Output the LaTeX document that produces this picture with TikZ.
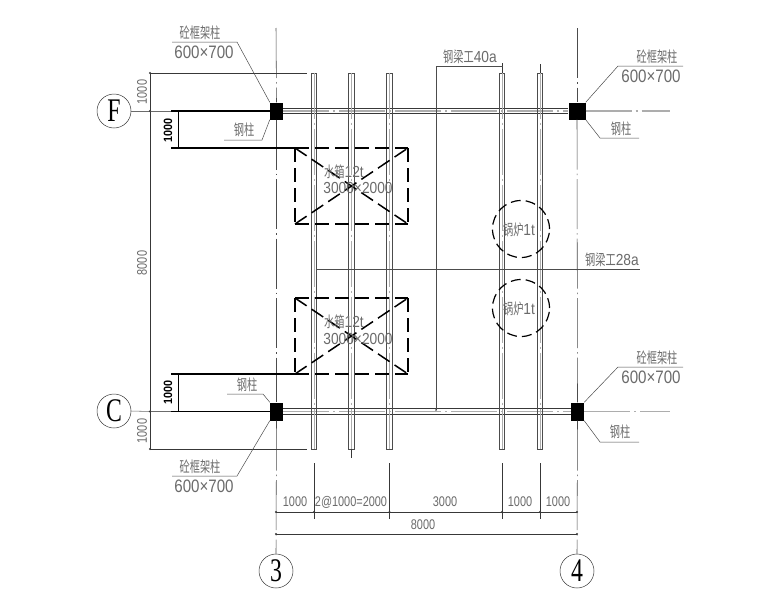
\documentclass[tikz,border=0pt]{standalone}
\usepackage{graphicx}
\usepackage{fontspec}
\setmainfont{Liberation Sans}
\newfontfamily\cjk{Noto Sans CJK SC}
\newfontfamily\serifnum{Liberation Serif}
\definecolor{ink}{gray}{0.22}
\definecolor{txtgray}{gray}{0.42}
\definecolor{axisgray}{gray}{0.3}
\definecolor{lightaxis}{gray}{0.68}
\newcommand{\lblbig}[1]{\scalebox{.84}[1]{\fontsize{18}{18}\selectfont #1}}
\newcommand{\lbldim}[1]{\scalebox{.78}[1]{\fontsize{14}{14}\selectfont #1}}
\newcommand{\lbltank}[1]{\scalebox{.86}[1]{\fontsize{16}{16}\selectfont #1}}
\newcommand{\lblcjk}[1]{\scalebox{.68}[1]{\fontsize{15}{15}\selectfont\cjk #1}}
\newcommand{\lblbold}[1]{\rotatebox{90}{\scalebox{.9}[1]{\fontsize{12}{12}\selectfont\bfseries #1}}}
\newcommand{\lblrot}[1]{\rotatebox{90}{\lbldim{#1}}}
\newcommand{\lblgrid}[1]{\scalebox{.72}[1]{\fontsize{33}{33}\selectfont\serifnum #1}}
\tikzset{
  lbl/.style={inner sep=0pt,text=txtgray},
  thin line/.style={draw=ink,line width=.55pt},
  leader/.style={draw=axisgray,line width=.5pt},
  axisline/.style={draw=axisgray,line width=.55pt,dash pattern=on 50pt off 4pt on 1.5pt off 4pt},
  centerline/.style={draw=lightaxis,line width=1.1pt,dash pattern=on 46pt off 4pt on 2pt off 4pt},
  heavy/.style={draw=black,line width=1.3pt},
  tankdash/.style={draw=black,line width=1.5pt,dash pattern=on 14pt off 6pt},
  column/.style={fill=black,draw=none,inner sep=0pt},
  beamv/.style={draw=axisgray,line width=.55pt,minimum width=5.5pt,minimum height=376pt,inner sep=0pt},
  gridc/.style={circle,draw=ink,line width=.5pt,minimum size=34pt,inner sep=0pt,fill=white},
  tick/.style={fill=ink,circle,inner sep=0pt,minimum size=2.2pt},
}
\begin{document}
\begin{tikzpicture}[x=1pt,y=-1pt]
\useasboundingbox (0,0) rectangle (760,608);
\fill[white] (0,0) rectangle (760,608);
% grid reference coordinates
\coordinate (a3top) at (276,28);
\coordinate (a4top) at (577,28);
\node[gridc] (gF) at (114,111) {\lblgrid{F}};
\node[gridc] (gC) at (114,411) {\lblgrid{C}};
\node[gridc] (g3) at (276,571) {\lblgrid{3}};
\node[gridc] (g4) at (577,571) {\lblgrid{4}};
% columns
\node[column,minimum width=13pt,minimum height=17pt] (c3F) at (276.5,111) {};
\node[column,minimum width=17pt,minimum height=17pt] (c4F) at (577,111) {};
\node[column,minimum width=13pt,minimum height=18pt] (c3C) at (276.5,411.5) {};
\node[column,minimum width=13pt,minimum height=18pt] (c4C) at (577.5,411.5) {};
% axes
\draw[axisline] (a3top) -- (c3F.north);
\draw[axisline] (c3F.south) -- (c3C.north);
\draw[axisline] (c3C.south) -- (g3.north);
\draw[axisline] (a4top) -- (c4F.north);
\draw[axisline] (c4F.south) -- (c4C.north);
\draw[axisline] (c4C.south) -- (g4.north);
% horizontal beams and centre lines
\draw[centerline] (c3F.east) -- (c4F.west);
\draw[centerline] (c3C.east) -- (c4C.west);
\coordinate (rF) at (670,111);
\coordinate (rC) at (670,411.5);
\draw[centerline] (c4F.east) -- (rF);
\draw[centerline] (c4C.east) -- (rC);
\draw[thin line] ([yshift=3pt]c3F.east) -- ([yshift=3pt]c4F.west);
\draw[thin line] ([yshift=-2.5pt]c3F.east) -- ([yshift=-2.5pt]c4F.west);
\draw[thin line] ([yshift=3pt]c3C.east) -- ([yshift=3pt]c4C.west);
\draw[thin line] ([yshift=-2.5pt]c3C.east) -- ([yshift=-2.5pt]c4C.west);
% vertical beams
\node[beamv] (b1) at (314,261) {};
\node[beamv] (b2) at (351.5,261) {};
\node[beamv] (b3) at (389.5,261) {};
\node[beamv] (b4) at (502,261) {};
\node[beamv] (b5) at (540,261) {};
\foreach \b in {b1,b2,b3,b4,b5}{
  \draw[draw=lightaxis,line width=.9pt,dash pattern=on 46pt off 4pt on 2pt off 4pt] (\b.north) -- (\b.south);
}
\coordinate (t4) at (502,63);
\coordinate (t5) at (540,64);
\draw[thin line] (t4) -- (b4.north);
\draw[thin line] (t5) -- (b5.north);
% left dimensions
\coordinate (dLt) at (150,73);
\coordinate (dLb) at (150,449);
\coordinate (dLm1) at (150,111);
\coordinate (dLm2) at (150,411.5);
\coordinate (sTop) at (307,73);
\coordinate (sBot) at (307,449);
\draw[thin line] (dLt) -- (sTop);
\draw[thin line] (dLb) -- (sBot);
\draw[thin line] (dLt) -- (dLb);
\draw[draw=txtgray,line width=.55pt] (gF.east) -- (dLm1);
\draw[draw=txtgray,line width=.55pt] (gC.east) -- (dLm2);
\draw[draw=txtgray,line width=.55pt] (dLm1) -- (c3F.west);
\draw[draw=txtgray,line width=.55pt] (dLm2) -- (c3C.west);
\foreach \p in {dLt,dLb,dLm1,dLm2}{\node[tick] at (\p) {};}
\node[lbl] (dim1) at (142,92) {\lblrot{1000}};
\node[lbl] (dim2) at (142,263) {\lblrot{8000}};
\node[lbl] (dim3) at (142,431) {\lblrot{1000}};
% tanks
\coordinate (hF) at (171,111);
\coordinate (hC) at (171,411.5);
\coordinate (hF2) at (171,148);
\coordinate (hC2) at (171,374);
\coordinate (tTL) at (295,148);
\coordinate (tTR) at (408,148);
\coordinate (tBL) at (295,224);
\coordinate (tBR) at (408,224);
\coordinate (uTL) at (295,298);
\coordinate (uTR) at (408,298);
\coordinate (uBL) at (295,374);
\coordinate (uBR) at (408,374);
\draw[heavy] (hF) -- (c3F.west);
\draw[heavy] (hC) -- (c3C.west);
\draw[heavy] (hF2) -- (tTL);
\draw[heavy] (hC2) -- (uBL);
\coordinate (k1) at (178,111);
\coordinate (k2) at (178,148);
\coordinate (k3) at (178,374);
\coordinate (k4) at (178,411.5);
\draw[heavy,line width=1pt] (k1) -- (k2);
\draw[heavy,line width=1pt] (k3) -- (k4);
\node[inner sep=0pt] (bd1) at (168,130) {\lblbold{1000}};
\node[inner sep=0pt] (bd2) at (168,392) {\lblbold{1000}};
\draw[tankdash] (tTL) -- (tTR);
\draw[tankdash] (tTR) -- (tBR);
\draw[tankdash] (tBL) -- (tBR);
\draw[tankdash] (tTL) -- (tBL);
\draw[tankdash] (uTL) -- (uTR);
\draw[tankdash] (uTR) -- (uBR);
\draw[tankdash] (uBL) -- (uBR);
\draw[tankdash] (uTL) -- (uBL);
\draw[tankdash] (tTL) -- (tBR);
\draw[tankdash] (tBL) -- (tTR);
\draw[tankdash] (uTL) -- (uBR);
\draw[tankdash] (uBL) -- (uTR);
\node[lbl] (w1a) at (344,172) {\lblcjk{水箱}\lbltank{12t}};
\node[lbl] (w1b) at (358,188) {\lbltank{3000×2000}};
\node[lbl] (w2a) at (344,322) {\lblcjk{水箱}\lbltank{12t}};
\node[lbl] (w2b) at (358,339) {\lbltank{3000×2000}};
% boilers
\node[circle,tankdash,line width=1.2pt,dash pattern=on 10pt off 5pt,minimum size=57pt,inner sep=0pt] (bo1) at (521,229) {};
\node[circle,tankdash,line width=1.2pt,dash pattern=on 10pt off 5pt,minimum size=57pt,inner sep=0pt] (bo2) at (521,308) {};
\node[lbl] (bt1) at (519,230) {\lblcjk{锅炉}\lbltank{1t}};
\node[lbl] (bt2) at (519,309) {\lblcjk{锅炉}\lbltank{1t}};
% leaders: steel beam labels
\coordinate (i1) at (436,66);
\coordinate (i2) at (503,66);
\coordinate (i3) at (436,410);
\draw[leader] (i2) -- (i1) -- (i3);
\node[tick,minimum size=1.8pt] at (i3) {};
\node[lbl] (lab40) at (470,57) {\lblcjk{钢梁工}\lbltank{40a}};
\coordinate (j1) at (316,269);
\coordinate (j2) at (640,269);
\draw[leader] (j1) -- (j2);
\node[lbl] (lab28) at (612,260) {\lblcjk{钢梁工}\lbltank{28a}};
% column labels top left
\coordinate (m1) at (172,42);
\coordinate (m2) at (237,42);
\draw[leader] (m1) -- (m2) -- (c3F.north west);
\node[lbl] (n1) at (200,33) {\lblcjk{砼框架柱}};
\node[lbl] (n2) at (204,52) {\lblbig{600×700}};
\coordinate (m3) at (224,140);
\coordinate (m4) at (262,140);
\draw[leader] (m3) -- (m4) -- (c3F.south west);
\node[lbl] (n3) at (244,130) {\lblcjk{钢柱}};
% bottom left
\coordinate (m5) at (227,394);
\coordinate (m6) at (263,394);
\draw[leader] (m5) -- (m6) -- (c3C.north west);
\node[lbl] (n4) at (247,385) {\lblcjk{钢柱}};
\coordinate (m7) at (172,476);
\coordinate (m8) at (237,476);
\draw[leader] (m7) -- (m8) -- (c3C.south west);
\node[lbl] (n5) at (200,467) {\lblcjk{砼框架柱}};
\node[lbl] (n6) at (204,486) {\lblbig{600×700}};
% top right
\coordinate (m9) at (618,66);
\coordinate (m10) at (683,66);
\draw[leader] (c4F.north east) -- (m9) -- (m10);
\node[lbl] (n7) at (657,57) {\lblcjk{砼框架柱}};
\node[lbl] (n8) at (651,76) {\lblbig{600×700}};
\coordinate (m11) at (600,138);
\coordinate (m12) at (639,138);
\draw[leader] (c4F.south east) -- (m11) -- (m12);
\node[lbl] (n9) at (621,129) {\lblcjk{钢柱}};
% bottom right
\coordinate (m13) at (618,367);
\coordinate (m14) at (683,367);
\draw[leader] (c4C.north east) -- (m13) -- (m14);
\node[lbl] (n10) at (657,358) {\lblcjk{砼框架柱}};
\node[lbl] (n11) at (651,377) {\lblbig{600×700}};
\coordinate (m15) at (600,442);
\coordinate (m16) at (639,442);
\draw[leader] (c4C.south east) -- (m15) -- (m16);
\node[lbl] (n12) at (620,432) {\lblcjk{钢柱}};
% bottom dimensions
\coordinate (d0) at (276,512);
\coordinate (d1) at (314,512);
\coordinate (d3) at (389.5,512);
\coordinate (d4) at (502,512);
\coordinate (d5) at (540,512);
\coordinate (d6) at (577,512);
\coordinate (e0) at (276,534);
\coordinate (e1) at (577,534);
\draw[thin line] (d0) -- (d6);
\draw[thin line] (e0) -- (e1);
\foreach \p in {d0,d1,d3,d4,d5,d6,e0,e1}{\node[tick] at (\p) {};}
\coordinate (x1) at (314,463);
\coordinate (x1b) at (314,519);
\coordinate (x3) at (389.5,463);
\coordinate (x3b) at (389.5,519);
\coordinate (x4) at (502,463);
\coordinate (x4b) at (502,519);
\coordinate (x5) at (540,463);
\coordinate (x5b) at (540,519);
\draw[thin line] (x1) -- (x1b);
\draw[thin line] (x3) -- (x3b);
\draw[thin line] (x4) -- (x4b);
\draw[thin line] (x5) -- (x5b);
\coordinate (x2) at (351.5,458);
\draw[thin line] (b2.south) -- (x2);
\node[lbl] (q1) at (295,502) {\lbldim{1000}};
\node[lbl] (q2) at (351,502) {\lbldim{2@1000=2000}};
\node[lbl] (q3) at (445,502) {\lbldim{3000}};
\node[lbl] (q4) at (520,502) {\lbldim{1000}};
\node[lbl] (q5) at (558,502) {\lbldim{1000}};
\node[lbl] (q6) at (423,525) {\lbldim{8000}};
\end{tikzpicture}
\end{document}
